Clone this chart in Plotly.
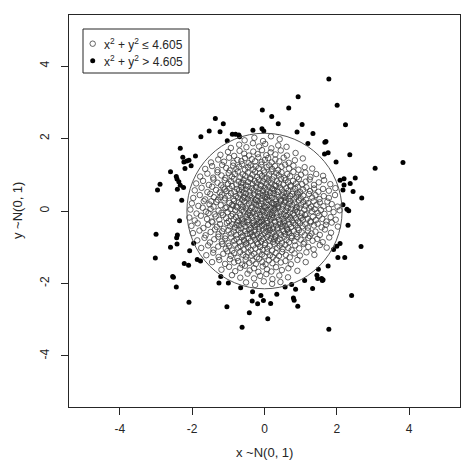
import math
import plotly.graph_objects as go

threshold = 4.605
axis_lim = 5.2
tick_vals = [-4, -2, 0, 2, 4]
tick_text = ["-4", "-2", "0", "2", "4"]
x_label = "x ~N(0, 1)"
y_label = "y ~N(0, 1)"
label_in = "x<sup>2</sup> + y<sup>2</sup> ≤ 4.605"
label_out = "x<sup>2</sup> + y<sup>2</sup> > 4.605"

# points outside the circle (filled)
outer_pts = [
    (-1.36, 2.55), (-1.14, 2.41), (-1.53, 2.21), (-1.23, 2.19), (-1.76, 2.05), (-0.89, 2.12),
    (-1.03, 1.94), (-0.80, 2.12), (-2.33, 1.73), (-2.26, 1.48), (-2.15, 1.38), (-2.23, 1.35),
    (-1.91, 1.52), (-2.09, 1.40), (-2.03, 1.25), (-2.20, 1.17), (-2.60, 1.08), (-2.44, 0.95),
    (-2.42, 0.88), (-2.37, 0.81), (-2.89, 0.74), (-2.96, 0.58), (-2.33, 0.71), (-2.24, 0.65),
    (-2.41, 0.60), (-2.29, 0.30), (-2.35, -0.27), (-3.00, -0.64), (-2.41, -0.66),
    (1.78, 3.64), (0.93, 3.15), (2.01, 2.92), (-0.06, 2.79), (0.67, 2.84), (0.20, 2.61),
    (2.24, 2.38), (0.38, 2.41), (1.04, 2.39), (-0.32, 2.23), (-0.07, 2.27), (-0.02, 2.21),
    (0.90, 2.18), (1.34, 2.14), (-0.71, 2.10), (-0.69, 2.05), (1.20, 1.86), (1.67, 1.90),
    (1.70, 1.92), (1.66, 1.57), (1.76, 1.61), (2.36, 1.55), (1.98, 1.35), (3.06, 1.18),
    (3.83, 1.34), (2.09, 0.85), (2.20, 0.89), (2.37, 0.76), (2.20, 0.72), (2.51, 0.91),
    (2.17, 0.58), (2.45, 0.54), (2.69, 0.36), (2.17, 0.17), (2.28, 0.05), (2.33, 0.01),
    (2.31, -0.39),
    (-2.43, -0.74), (-3.02, -1.30), (-2.60, -1.00), (-2.42, -0.91), (-2.07, -1.10), (-1.96, -0.89),
    (-2.22, -1.45), (-2.10, -1.50), (-1.86, -1.34), (-1.77, -1.38), (-2.54, -1.81), (-2.52, -1.83),
    (-2.44, -2.10), (-2.09, -2.52), (-1.21, -1.81), (-1.26, -1.99), (-1.00, -1.99), (-1.04, -2.64),
    (2.67, -0.98), (2.09, -0.90), (2.00, -0.97), (1.91, -1.06), (2.03, -1.28), (2.22, -1.28),
    (1.76, -1.52), (1.49, -1.61), (1.45, -1.77), (1.47, -1.86), (1.58, -1.86), (1.62, -1.90),
    (1.60, -1.92), (1.11, -1.92), (1.33, -2.14), (0.75, -2.03), (0.86, -2.16), (0.57, -2.10),
    (-0.66, -2.12), (-0.33, -2.23), (-0.10, -2.33), (0.34, -2.30), (-0.34, -2.48), (-0.19, -2.56),
    (-0.03, -2.47), (0.17, -2.55), (0.80, -2.40), (0.82, -2.46), (0.92, -2.63), (2.41, -2.33),
    (-0.42, -2.81), (0.09, -2.97), (-0.62, -3.21), (1.78, -3.26),
]

# points inside the circle (open)
inner_pts = [
    (-2.05,0.04),(-1.88,-0.07),(-1.71,0.09),(-1.62,-0.02),(-1.49,0.06),(-1.38,-0.09),(-1.27,0.01),(-1.19,-0.05),(-1.08,0.08),(-1.02,-0.03),(-0.94,0.05),(-0.88,-0.08),(-0.81,0.02),(-0.76,0.1),(-0.69,-0.06),(-0.63,0.03),(-0.58,-0.01),(-0.52,0.07),(-0.47,-0.09),(-0.41,0.0),(-0.36,0.08),(-0.31,-0.04),(-0.26,0.05),(-0.21,-0.07),(-0.17,0.02),(-0.12,-0.1),(-0.08,0.06),(-0.03,-0.02),(0.02,0.09),(0.06,-0.05),(0.11,0.03),(0.15,-0.08),(0.19,0.07),(0.24,-0.01),(0.29,0.04),(0.33,-0.06),(0.38,0.1),(0.44,-0.03),(0.49,0.05),(0.53,-0.09),(0.59,0.01),(0.64,0.08),(0.70,-0.04),(0.74,0.06),(0.79,-0.07),(0.85,0.02),(0.91,-0.02),(0.97,0.09),(1.03,-0.06),(1.10,0.04),(1.16,-0.09),(1.24,0.07),(1.31,-0.01),(1.39,0.05),(1.47,-0.05),(1.56,0.03),(1.66,-0.08),(1.78,0.06),(1.91,-0.03),(2.08,0.02),(-1.55,-0.06),(0.27,0.08),(-0.44,-0.05),(0.88,0.07),(-0.05,0.01),
    (-2.01,0.21),(-1.83,0.14),(-1.68,0.27),(-1.52,0.18),(-1.41,0.12),(-1.33,0.25),(-1.21,0.16),(-1.11,0.29),(-1.05,0.11),(-0.97,0.22),(-0.90,0.17),(-0.84,0.28),(-0.78,0.13),(-0.71,0.24),(-0.66,0.19),(-0.60,0.11),(-0.55,0.26),(-0.49,0.15),(-0.43,0.21),(-0.38,0.29),(-0.33,0.12),(-0.28,0.23),(-0.23,0.17),(-0.19,0.27),(-0.14,0.14),(-0.10,0.2),(-0.06,0.28),(-0.01,0.13),(0.04,0.24),(0.08,0.16),(0.13,0.29),(0.17,0.11),(0.22,0.22),(0.26,0.18),(0.31,0.26),(0.36,0.13),(0.41,0.21),(0.46,0.28),(0.51,0.15),(0.56,0.24),(0.61,0.12),(0.67,0.2),(0.72,0.27),(0.77,0.16),(0.83,0.23),(0.89,0.11),(0.95,0.29),(1.01,0.18),(1.07,0.25),(1.14,0.14),(1.21,0.22),(1.29,0.12),(1.36,0.27),(1.44,0.17),(1.53,0.24),(1.63,0.13),(1.74,0.26),(1.86,0.19),(2.02,0.12),(-0.87,0.15),(0.33,0.19),(-0.25,0.3),(0.58,0.29),(-1.47,0.27),
    (-2.08,-0.18),(-1.93,-0.26),(-1.76,-0.13),(-1.59,-0.22),(-1.46,-0.29),(-1.35,-0.15),(-1.25,-0.24),(-1.15,-0.11),(-1.06,-0.2),(-0.99,-0.28),(-0.92,-0.14),(-0.85,-0.23),(-0.79,-0.17),(-0.73,-0.27),(-0.67,-0.12),(-0.61,-0.21),(-0.56,-0.29),(-0.50,-0.16),(-0.45,-0.25),(-0.40,-0.11),(-0.35,-0.19),(-0.30,-0.28),(-0.24,-0.14),(-0.20,-0.22),(-0.15,-0.3),(-0.11,-0.17),(-0.06,-0.25),(-0.02,-0.12),(0.03,-0.2),(0.07,-0.27),(0.12,-0.15),(0.16,-0.23),(0.21,-0.11),(0.25,-0.19),(0.30,-0.29),(0.35,-0.16),(0.40,-0.24),(0.45,-0.13),(0.50,-0.21),(0.55,-0.28),(0.60,-0.14),(0.66,-0.23),(0.71,-0.18),(0.76,-0.26),(0.82,-0.12),(0.87,-0.2),(0.93,-0.29),(0.99,-0.15),(1.06,-0.24),(1.12,-0.11),(1.19,-0.21),(1.27,-0.28),(1.34,-0.16),(1.42,-0.25),(1.51,-0.13),(1.60,-0.22),(1.71,-0.29),(1.83,-0.17),(1.97,-0.24),(-0.63,-0.26),(0.19,-0.18),(-0.09,-0.29),(0.64,-0.11),(1.02,-0.19),
    (-1.97,0.36),(-1.79,0.44),(-1.64,0.32),(-1.50,0.47),(-1.40,0.38),(-1.29,0.31),(-1.18,0.45),(-1.09,0.35),(-1.00,0.42),(-0.93,0.49),(-0.86,0.33),(-0.79,0.41),(-0.73,0.37),(-0.68,0.46),(-0.62,0.31),(-0.57,0.4),(-0.51,0.48),(-0.46,0.34),(-0.40,0.43),(-0.35,0.37),(-0.29,0.46),(-0.24,0.32),(-0.18,0.41),(-0.13,0.49),(-0.08,0.35),(-0.04,0.44),(0.01,0.38),(0.05,0.47),(0.10,0.31),(0.14,0.42),(0.20,0.36),(0.25,0.49),(0.30,0.33),(0.34,0.45),(0.39,0.39),(0.45,0.31),(0.50,0.43),(0.55,0.36),(0.61,0.48),(0.66,0.34),(0.71,0.41),(0.77,0.47),(0.82,0.32),(0.88,0.39),(0.94,0.45),(1.00,0.35),(1.07,0.42),(1.15,0.31),(1.23,0.47),(1.32,0.37),(1.41,0.44),(1.52,0.33),(1.64,0.41),(1.78,0.36),(1.95,0.44),(-0.55,0.36),(0.07,0.39),(0.58,0.4),(-1.22,0.39),(0.91,0.49),
    (-2.02,-0.41),(-1.85,-0.34),(-1.69,-0.47),(-1.56,-0.38),(-1.44,-0.31),(-1.32,-0.44),(-1.23,-0.36),(-1.13,-0.49),(-1.04,-0.33),(-0.96,-0.42),(-0.89,-0.37),(-0.82,-0.46),(-0.75,-0.32),(-0.70,-0.4),(-0.64,-0.48),(-0.59,-0.35),(-0.53,-0.43),(-0.48,-0.31),(-0.42,-0.39),(-0.37,-0.47),(-0.32,-0.34),(-0.26,-0.44),(-0.21,-0.37),(-0.16,-0.49),(-0.12,-0.32),(-0.07,-0.41),(-0.02,-0.36),(0.03,-0.45),(0.08,-0.33),(0.13,-0.42),(0.18,-0.38),(0.23,-0.48),(0.28,-0.31),(0.32,-0.4),(0.37,-0.46),(0.43,-0.35),(0.48,-0.43),(0.53,-0.32),(0.58,-0.41),(0.63,-0.49),(0.69,-0.36),(0.74,-0.44),(0.80,-0.33),(0.86,-0.39),(0.92,-0.47),(0.98,-0.34),(1.05,-0.42),(1.13,-0.37),(1.20,-0.46),(1.28,-0.31),(1.37,-0.4),(1.47,-0.35),(1.58,-0.45),(1.70,-0.38),(1.86,-0.32),(2.03,-0.43),(-0.78,-0.38),(0.12,-0.47),(0.51,-0.37),(-0.28,-0.39),
    (-1.93,0.57),(-1.74,0.64),(-1.58,0.52),(-1.45,0.67),(-1.34,0.58),(-1.24,0.51),(-1.14,0.65),(-1.05,0.55),(-0.97,0.62),(-0.90,0.69),(-0.83,0.53),(-0.76,0.61),(-0.70,0.57),(-0.64,0.66),(-0.58,0.51),(-0.52,0.6),(-0.46,0.68),(-0.41,0.54),(-0.35,0.63),(-0.30,0.57),(-0.24,0.66),(-0.19,0.52),(-0.14,0.61),(-0.09,0.69),(-0.04,0.55),(0.01,0.64),(0.06,0.58),(0.11,0.67),(0.16,0.51),(0.21,0.62),(0.27,0.56),(0.32,0.69),(0.37,0.53),(0.43,0.65),(0.48,0.59),(0.54,0.51),(0.60,0.63),(0.66,0.56),(0.72,0.68),(0.78,0.54),(0.85,0.61),(0.92,0.67),(0.99,0.52),(1.07,0.59),(1.16,0.65),(1.26,0.55),(1.37,0.62),(1.49,0.53),(1.62,0.61),(1.78,0.56),(1.96,0.63),(-0.62,0.59),(0.24,0.6),(-1.1,0.6),
    (-1.98,-0.61),(-1.80,-0.54),(-1.63,-0.67),(-1.49,-0.58),(-1.37,-0.51),(-1.27,-0.64),(-1.17,-0.56),(-1.08,-0.69),(-1.00,-0.53),(-0.92,-0.62),(-0.85,-0.57),(-0.78,-0.66),(-0.72,-0.52),(-0.66,-0.6),(-0.60,-0.68),(-0.54,-0.55),(-0.48,-0.63),(-0.43,-0.51),(-0.37,-0.59),(-0.31,-0.67),(-0.26,-0.54),(-0.20,-0.64),(-0.15,-0.57),(-0.10,-0.69),(-0.05,-0.52),(0.00,-0.61),(0.05,-0.56),(0.10,-0.65),(0.15,-0.53),(0.20,-0.62),(0.25,-0.58),(0.30,-0.68),(0.35,-0.51),(0.41,-0.6),(0.46,-0.66),(0.52,-0.55),(0.57,-0.63),(0.63,-0.52),(0.69,-0.61),(0.75,-0.69),(0.81,-0.56),(0.88,-0.64),(0.95,-0.53),(1.03,-0.59),(1.11,-0.67),(1.20,-0.54),(1.30,-0.62),(1.41,-0.57),(1.53,-0.66),(1.67,-0.51),(1.84,-0.6),(-0.4,-0.64),(0.66,-0.58),(1.25,-0.69),
    (-1.89,0.76),(-1.70,0.83),(-1.54,0.72),(-1.41,0.87),(-1.30,0.78),(-1.20,0.71),(-1.10,0.85),(-1.01,0.75),(-0.93,0.82),(-0.85,0.89),(-0.78,0.73),(-0.71,0.81),(-0.64,0.77),(-0.58,0.86),(-0.51,0.71),(-0.45,0.8),(-0.39,0.88),(-0.33,0.74),(-0.27,0.83),(-0.22,0.77),(-0.16,0.86),(-0.11,0.72),(-0.05,0.81),(0.00,0.89),(0.06,0.75),(0.11,0.84),(0.17,0.78),(0.22,0.87),(0.28,0.71),(0.34,0.82),(0.40,0.76),(0.46,0.89),(0.52,0.73),(0.58,0.85),(0.65,0.79),(0.72,0.71),(0.79,0.83),(0.87,0.76),(0.95,0.88),(1.04,0.74),(1.14,0.81),(1.25,0.87),(1.37,0.72),(1.50,0.79),(1.65,0.85),(1.82,0.74),(-0.6,0.78),
    (-1.86,-0.81),(-1.66,-0.74),(-1.51,-0.87),(-1.39,-0.78),(-1.28,-0.71),(-1.18,-0.84),(-1.09,-0.76),(-1.00,-0.89),(-0.92,-0.73),(-0.84,-0.82),(-0.77,-0.77),(-0.70,-0.86),(-0.63,-0.72),(-0.57,-0.8),(-0.50,-0.88),(-0.44,-0.75),(-0.38,-0.83),(-0.32,-0.71),(-0.26,-0.79),(-0.21,-0.87),(-0.15,-0.74),(-0.09,-0.84),(-0.04,-0.77),(0.02,-0.89),(0.07,-0.72),(0.13,-0.81),(0.18,-0.76),(0.24,-0.85),(0.30,-0.73),(0.36,-0.82),(0.42,-0.78),(0.48,-0.88),(0.55,-0.71),(0.61,-0.8),(0.68,-0.86),(0.75,-0.75),(0.83,-0.83),(0.91,-0.72),(1.00,-0.79),(1.10,-0.87),(1.21,-0.74),(1.33,-0.82),(1.46,-0.77),(1.61,-0.86),(1.79,-0.73),(0.27,-0.78),(-0.55,-0.84),
    (-1.78,0.95),(-1.58,1.03),(-1.42,0.92),(-1.30,1.07),(-1.19,0.98),(-1.08,0.91),(-0.99,1.05),(-0.90,0.95),(-0.82,1.02),(-0.74,1.09),(-0.67,0.93),(-0.60,1.01),(-0.53,0.97),(-0.46,1.06),(-0.39,0.91),(-0.33,1.0),(-0.26,1.08),(-0.20,0.94),(-0.13,1.03),(-0.07,0.97),(0.00,1.06),(0.06,0.92),(0.13,1.01),(0.19,1.09),(0.26,0.95),(0.33,1.04),(0.40,0.98),(0.47,1.07),(0.55,0.91),(0.63,1.02),(0.71,0.96),(0.80,1.08),(0.90,0.93),(1.01,1.0),(1.13,1.06),(1.27,0.94),(1.43,1.02),(1.62,0.97),
    (-1.75,-1.02),(-1.56,-0.95),(-1.41,-1.07),(-1.28,-0.98),(-1.17,-0.91),(-1.07,-1.04),(-0.98,-0.96),(-0.89,-1.09),(-0.81,-0.93),(-0.73,-1.01),(-0.66,-0.97),(-0.58,-1.06),(-0.51,-0.92),(-0.45,-1.0),(-0.38,-1.08),(-0.31,-0.95),(-0.25,-1.03),(-0.18,-0.91),(-0.12,-0.99),(-0.05,-1.07),(0.01,-0.94),(0.08,-1.04),(0.14,-0.97),(0.21,-1.09),(0.28,-0.92),(0.35,-1.01),(0.42,-0.96),(0.50,-1.05),(0.58,-0.93),(0.66,-1.02),(0.75,-1.08),(0.85,-0.95),(0.96,-1.03),(1.08,-0.91),(1.21,-0.99),(1.36,-1.06),(1.53,-0.94),(1.72,-1.01),
    (-1.64,1.16),(-1.45,1.24),(-1.30,1.13),(-1.17,1.27),(-1.06,1.19),(-0.96,1.12),(-0.87,1.25),(-0.78,1.17),(-0.70,1.22),(-0.62,1.29),(-0.54,1.14),(-0.46,1.21),(-0.39,1.26),(-0.31,1.15),(-0.24,1.23),(-0.16,1.18),(-0.09,1.28),(-0.02,1.12),(0.06,1.21),(0.13,1.26),(0.21,1.16),(0.29,1.24),(0.38,1.13),(0.47,1.22),(0.57,1.28),(0.68,1.17),(0.80,1.25),(0.94,1.14),(1.11,1.21),(1.32,1.17),
    (-1.61,-1.22),(-1.42,-1.15),(-1.27,-1.27),(-1.14,-1.18),(-1.03,-1.11),(-0.93,-1.24),(-0.84,-1.16),(-0.75,-1.29),(-0.67,-1.13),(-0.59,-1.21),(-0.51,-1.26),(-0.44,-1.15),(-0.36,-1.23),(-0.29,-1.18),(-0.21,-1.28),(-0.14,-1.12),(-0.07,-1.2),(0.00,-1.25),(0.08,-1.14),(0.15,-1.22),(0.23,-1.27),(0.31,-1.16),(0.40,-1.24),(0.49,-1.13),(0.59,-1.21),(0.70,-1.28),(0.83,-1.17),(0.98,-1.23),(1.16,-1.14),(1.38,-1.21),
    (-1.48,1.34),(-1.28,1.42),(-1.12,1.36),(-0.98,1.47),(-0.86,1.33),(-0.75,1.41),(-0.64,1.38),(-0.54,1.46),(-0.44,1.32),(-0.35,1.43),(-0.26,1.37),(-0.17,1.48),(-0.08,1.35),(0.01,1.41),(0.10,1.46),(0.20,1.34),(0.30,1.42),(0.41,1.37),(0.53,1.47),(0.67,1.33),(0.84,1.4),(1.06,1.45),
    (-1.45,-1.41),(-1.25,-1.35),(-1.09,-1.46),(-0.96,-1.33),(-0.84,-1.42),(-0.73,-1.38),(-0.62,-1.48),(-0.52,-1.34),(-0.42,-1.43),(-0.33,-1.37),(-0.24,-1.46),(-0.15,-1.32),(-0.06,-1.41),(0.03,-1.47),(0.12,-1.36),(0.22,-1.44),(0.33,-1.34),(0.45,-1.42),(0.58,-1.38),(0.73,-1.47),(0.91,-1.35),(1.14,-1.41),
    (-1.22,1.55),(-1.01,1.63),(-0.84,1.52),(-0.69,1.66),(-0.56,1.58),(-0.43,1.53),(-0.31,1.64),(-0.19,1.57),(-0.07,1.68),(0.05,1.54),(0.17,1.62),(0.30,1.56),(0.45,1.67),(0.62,1.53),(0.86,1.6),
    (-1.19,-1.62),(-0.98,-1.54),(-0.81,-1.66),(-0.67,-1.57),(-0.54,-1.51),(-0.41,-1.64),(-0.29,-1.58),(-0.17,-1.68),(-0.05,-1.53),(0.07,-1.61),(0.19,-1.67),(0.32,-1.55),(0.48,-1.63),(0.66,-1.58),(0.91,-1.65),
    (-0.93,1.74),(-0.70,1.83),(-0.50,1.76),(-0.32,1.87),(-0.15,1.78),(0.02,1.85),(0.19,1.73),(0.38,1.81),(0.61,1.77),
    (-0.90,-1.77),(-0.67,-1.84),(-0.47,-1.73),(-0.29,-1.86),(-0.12,-1.79),(0.05,-1.74),(0.22,-1.88),(0.41,-1.78),(0.65,-1.83),
    (-0.55,1.95),(-0.28,2.02),(-0.04,1.93),(0.18,2.06),(0.42,1.98),
    (-0.51,-1.97),(-0.26,-2.04),(-0.02,-1.94),(0.21,-2.01),(0.44,-1.96),
]

inner_x = [p[0] for p in inner_pts]
inner_y = [p[1] for p in inner_pts]
outer_x = [p[0] for p in outer_pts]
outer_y = [p[1] for p in outer_pts]

FONT = "Liberation Sans, Arial, Helvetica, sans-serif"
INK = "#262626"
OPEN_INK = "#3c3c3c"

# page has an 8px body margin, so the figure is drawn 8px smaller and shifted
W = H = 466
L, R, T, B = 61, 14, 7, 67
PW, PH = W - L - R, H - T - B


def px_x(p):  # window pixel -> paper x
    return (p - 8 - L) / PW


def px_y(p):  # window pixel -> paper y
    return 1 - (p - 8 - T) / PH


fig = go.Figure()
fig.add_trace(go.Scatter(
    x=inner_x, y=inner_y, mode="markers", name=label_in, showlegend=False,
    marker=dict(symbol="circle-open", size=5.5, color=OPEN_INK, line=dict(width=0.8, color=OPEN_INK)),
))
fig.add_trace(go.Scatter(
    x=outer_x, y=outer_y, mode="markers", name=label_out, showlegend=False,
    marker=dict(symbol="circle", size=5, color="black", line=dict(width=0)),
))

r = math.sqrt(threshold)
fig.add_shape(type="circle", xref="x", yref="y", x0=-r, y0=-r, x1=r, y1=r,
              line=dict(color="#555555", width=1), layer="above")

# legend drawn by hand to match the R legend box
key_x = px_x(92.7)
key_y = [px_y(43.7), px_y(60.7)]
fig.add_trace(go.Scatter(
    x=[key_x], y=[key_y[0]], xaxis="x2", yaxis="y2", mode="markers", showlegend=False,
    marker=dict(symbol="circle-open", size=5.5, color=OPEN_INK, line=dict(width=0.8, color=OPEN_INK)),
    hoverinfo="skip",
))
fig.add_trace(go.Scatter(
    x=[key_x], y=[key_y[1]], xaxis="x2", yaxis="y2", mode="markers", showlegend=False,
    marker=dict(symbol="circle", size=5, color="black"), hoverinfo="skip",
))
fig.add_shape(type="rect", xref="paper", yref="paper",
              x0=px_x(83), x1=px_x(189), y0=px_y(73), y1=px_y(29),
              line=dict(color=INK, width=1), fillcolor="rgba(0,0,0,0)", layer="above")
for lab, ky in zip([label_in, label_out], key_y):
    fig.add_annotation(text=lab, xref="paper", yref="paper", x=px_x(102), y=ky,
                       showarrow=False, xanchor="left", yanchor="middle",
                       font=dict(family=FONT, size=12, color=INK))

rng = [-axis_lim * 1.04, axis_lim * 1.04]
axis_common = dict(
    range=rng, showgrid=False, zeroline=False, showline=True, mirror=True,
    linecolor=INK, linewidth=1, ticks="outside", ticklen=7, tickcolor=INK,
    tickvals=tick_vals, ticktext=tick_text, tickfont=dict(family=FONT, size=12, color=INK),
)
fig.update_xaxes(**axis_common, ticklabelstandoff=4)
fig.update_yaxes(**axis_common, tickangle=-90, ticklabelstandoff=7)

fig.add_annotation(text=x_label, xref="paper", yref="paper", x=0.5, y=0, yshift=-45,
                   showarrow=False, xanchor="center", yanchor="middle",
                   font=dict(family=FONT, size=13, color=INK))
fig.add_annotation(text=y_label, xref="paper", yref="paper", x=0, y=0.5, xshift=-52,
                   showarrow=False, xanchor="center", yanchor="middle", textangle=-90,
                   font=dict(family=FONT, size=13, color=INK))

fig.update_layout(
    width=W, height=H,
    margin=dict(l=L, r=R, t=T, b=B),
    paper_bgcolor="white", plot_bgcolor="white",
    showlegend=False,
    xaxis2=dict(overlaying="x", range=[0, 1], visible=False, fixedrange=True),
    yaxis2=dict(overlaying="y", range=[0, 1], visible=False, fixedrange=True),
)

fig.write_html("out.html")
